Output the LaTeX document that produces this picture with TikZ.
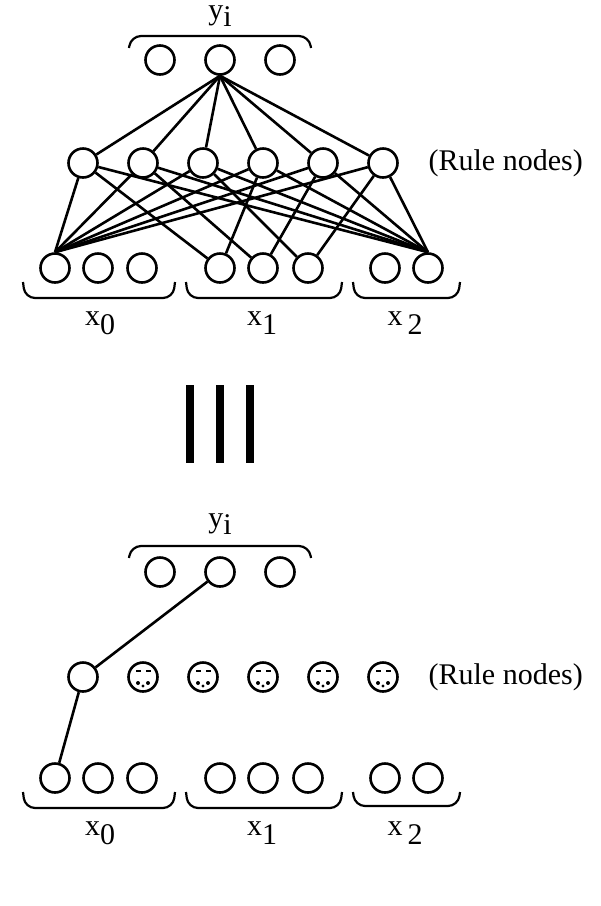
\documentclass[tikz,border=0pt]{standalone}
\usepackage{fontspec}
\setmainfont{Liberation Serif}
\begin{document}
\begin{tikzpicture}[x=1pt,y=-1pt,line width=2.6pt,
  unit/.style={circle,draw,inner sep=0pt,minimum size=29pt},
  brace/.style={rounded corners=10pt,line width=2.2pt},
  lbl/.style={font=\fontsize{30}{34}\selectfont},
  sleep/.style={unit}]
\useasboundingbox (0,0) rectangle (601,906);
% ---- top network
\foreach \x [count=\i] in {160,220,280} \node[unit] (ya\i) at (\x,60) {};
\foreach \x [count=\i] in {83,143,203,263,323,383} \node[unit] (ra\i) at (\x,163) {};
\foreach \x [count=\i] in {55,98,142,220,263,308,385,428} \node[unit] (ia\i) at (\x,268) {};
\draw[brace] (129,48) -- (131,36) -- (309,36) -- (311,48);
\node[lbl] (yla) at (220,16) {y\raisebox{-7pt}{i}};
\draw[brace] (23,282) -- (25,298) -- (173,298) -- (175,282);
\draw[brace] (186,282) -- (188,298) -- (340,298) -- (342,282);
\draw[brace] (353,282) -- (355,298) -- (458,298) -- (460,282);
\node[lbl] (xa0) at (100,323) {x\raisebox{-9pt}{0}};
\node[lbl] (xa1) at (262,323) {x\raisebox{-9pt}{1}};
\node[lbl] (xa2) at (405,323) {x\,\raisebox{-9pt}{2}};
\node[lbl,anchor=west] (rla) at (424,163) {(Rule nodes)};
\foreach \i in {1,...,6} \draw (ya2.south) -- (ra\i);
\foreach \i/\j in {1/4,2/5,3/6,4/4,5/5,6/6} {
  \draw (ra\i) -- (ia1.north);
  \draw (ra\i) -- (ia8.north);
  \draw (ra\i) -- (ia\j);
}
% ---- equivalence bars
\foreach \x in {190,220,250} \fill (\x-4,385) rectangle (\x+4,463);
% ---- bottom network
\foreach \x [count=\i] in {160,220,280} \node[unit] (yb\i) at (\x,572) {};
\node[unit] (rb1) at (83,677) {};
\foreach \x [count=\i] in {143,203,263,323,383} {
  \node[sleep] (rs\i) at (\x,677) {};
  \draw[line width=1.8pt] (\x-7,671) -- (\x-2,671) (\x+3,671) -- (\x+8,671);
  \fill (\x-5,683) circle (2pt) (\x+5,683) circle (2pt) (\x,686) circle (1.6pt);
}
\foreach \x [count=\i] in {55,98,142,220,263,308,385,428} \node[unit] (ib\i) at (\x,778) {};
\draw[brace] (129,558) -- (131,546) -- (309,546) -- (311,558);
\node[lbl] (ylb) at (220,524) {y\raisebox{-7pt}{i}};
\draw[brace] (23,792) -- (25,808) -- (173,808) -- (175,792);
\draw[brace] (186,792) -- (188,808) -- (340,808) -- (342,792);
\draw[brace] (353,792) -- (355,806) -- (458,806) -- (460,792);
\node[lbl] (xb0) at (100,833) {x\raisebox{-9pt}{0}};
\node[lbl] (xb1) at (262,833) {x\raisebox{-9pt}{1}};
\node[lbl] (xb2) at (405,833) {x\,\raisebox{-9pt}{2}};
\node[lbl,anchor=west] (rlb) at (424,677) {(Rule nodes)};
\draw (yb2) -- (rb1);
\draw (rb1) -- (ib1);
\end{tikzpicture}
\end{document}
